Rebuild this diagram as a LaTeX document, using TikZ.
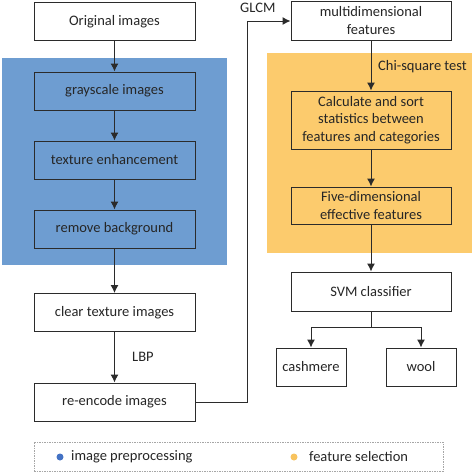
\documentclass[tikz,border=0pt]{standalone}
\usepackage{fontspec}
\setmainfont{Carlito}
\usetikzlibrary{arrows.meta}
\definecolor{bluebg}{HTML}{6E9DD1}
\definecolor{orangebg}{HTML}{FCCB6D}
\definecolor{linec}{HTML}{2B2B2B}
\definecolor{bluedot}{HTML}{4472C4}
\definecolor{orangedot}{HTML}{F8C35E}
\tikzset{
  box/.style={draw=linec, line width=1pt, align=center, font=\fontsize{14.5}{17.5}\selectfont, inner sep=0pt, text=black!85},
  lbox/.style={box, minimum width=161pt, minimum height=38pt},
  rbox/.style={box, minimum width=160pt, minimum height=38pt},
  sbox/.style={box, minimum width=70pt, minimum height=38pt},
  arr/.style={draw=linec, line width=1pt, -{Latex[length=8pt,width=8pt]}},
  lbl/.style={font=\fontsize{14.5}{17}\selectfont, inner sep=0pt, text=black!85},
}
\begin{document}
\begin{tikzpicture}[x=1pt,y=-1pt]
\useasboundingbox (0,0) rectangle (474,472);
\fill[white] (0,0) rectangle (474,472);
% backgrounds
\fill[bluebg] (2,58) rectangle (227,265);
\fill[orangebg] (267,53) rectangle (472,253);
% left column
\node[lbox] (orig) at (114.5,21.5) {Original images};
\node[lbox] (gray) at (114.5,91) {grayscale images};
\node[lbox] (tex) at (114.5,160) {texture enhancement};
\node[lbox] (rem) at (114.5,229) {remove background};
\node[lbox] (clear) at (114.5,312.5) {clear texture images};
\node[lbox] (reenc) at (114.5,402) {re-encode images};
% right column
\node[rbox, minimum height=39pt] (multi) at (371,20.5) {multidimensional\\features};
\node[rbox, minimum height=58pt] (calc) at (371,120) {Calculate and sort\\statistics between\\features and categories};
\node[rbox, minimum height=37pt] (five) at (371,205.5) {Five-dimensional\\effective features};
\node[rbox, minimum height=39pt] (svm) at (371,291.5) {SVM classifier};
\node[sbox] (cash) at (311,367) {cashmere};
\node[sbox] (wool) at (421,367) {wool};
% labels
\node[lbl, anchor=west] (glcm) at (240,8) {GLCM};
\node[lbl, anchor=west] (chi) at (378,67) {Chi-square test};
\node[lbl, anchor=west] (lbp) at (132,357) {LBP};
% connectors
\draw[arr] (orig) -- (gray);
\draw[arr] (gray) -- (tex);
\draw[arr] (tex) -- (rem);
\draw[arr] (rem) -- (clear);
\draw[arr] (clear) -- (reenc);
\coordinate (c1) at (247,402);
\coordinate (c2) at (247,21);
\draw[arr] (reenc.east) -- (c1) -- (c2) -- (multi.west |- c2);
\draw[arr] (multi) -- (calc);
\draw[arr] (calc) -- (five);
\draw[arr] (five) -- (svm);
\coordinate (sp) at (371,327);
\draw[linec, line width=1pt] (svm.south) -- (sp);
\draw[arr] (sp) -| (cash.north);
\draw[arr] (sp) -| (wool.north);
% legend
\node[draw=gray!70, dash pattern=on 1.5pt off 1pt, line width=0.8pt, minimum width=409pt, minimum height=29pt, inner sep=0pt] (legend) at (238.5,456.5) {};
\fill[bluedot] (60,457) circle (3.5pt);
\node[lbl, anchor=west] (lg1) at (71,457) {image preprocessing};
\fill[orangedot] (294,457) circle (3.5pt);
\node[lbl, anchor=west] (lg2) at (309,457) {feature selection};
\end{tikzpicture}
\end{document}
